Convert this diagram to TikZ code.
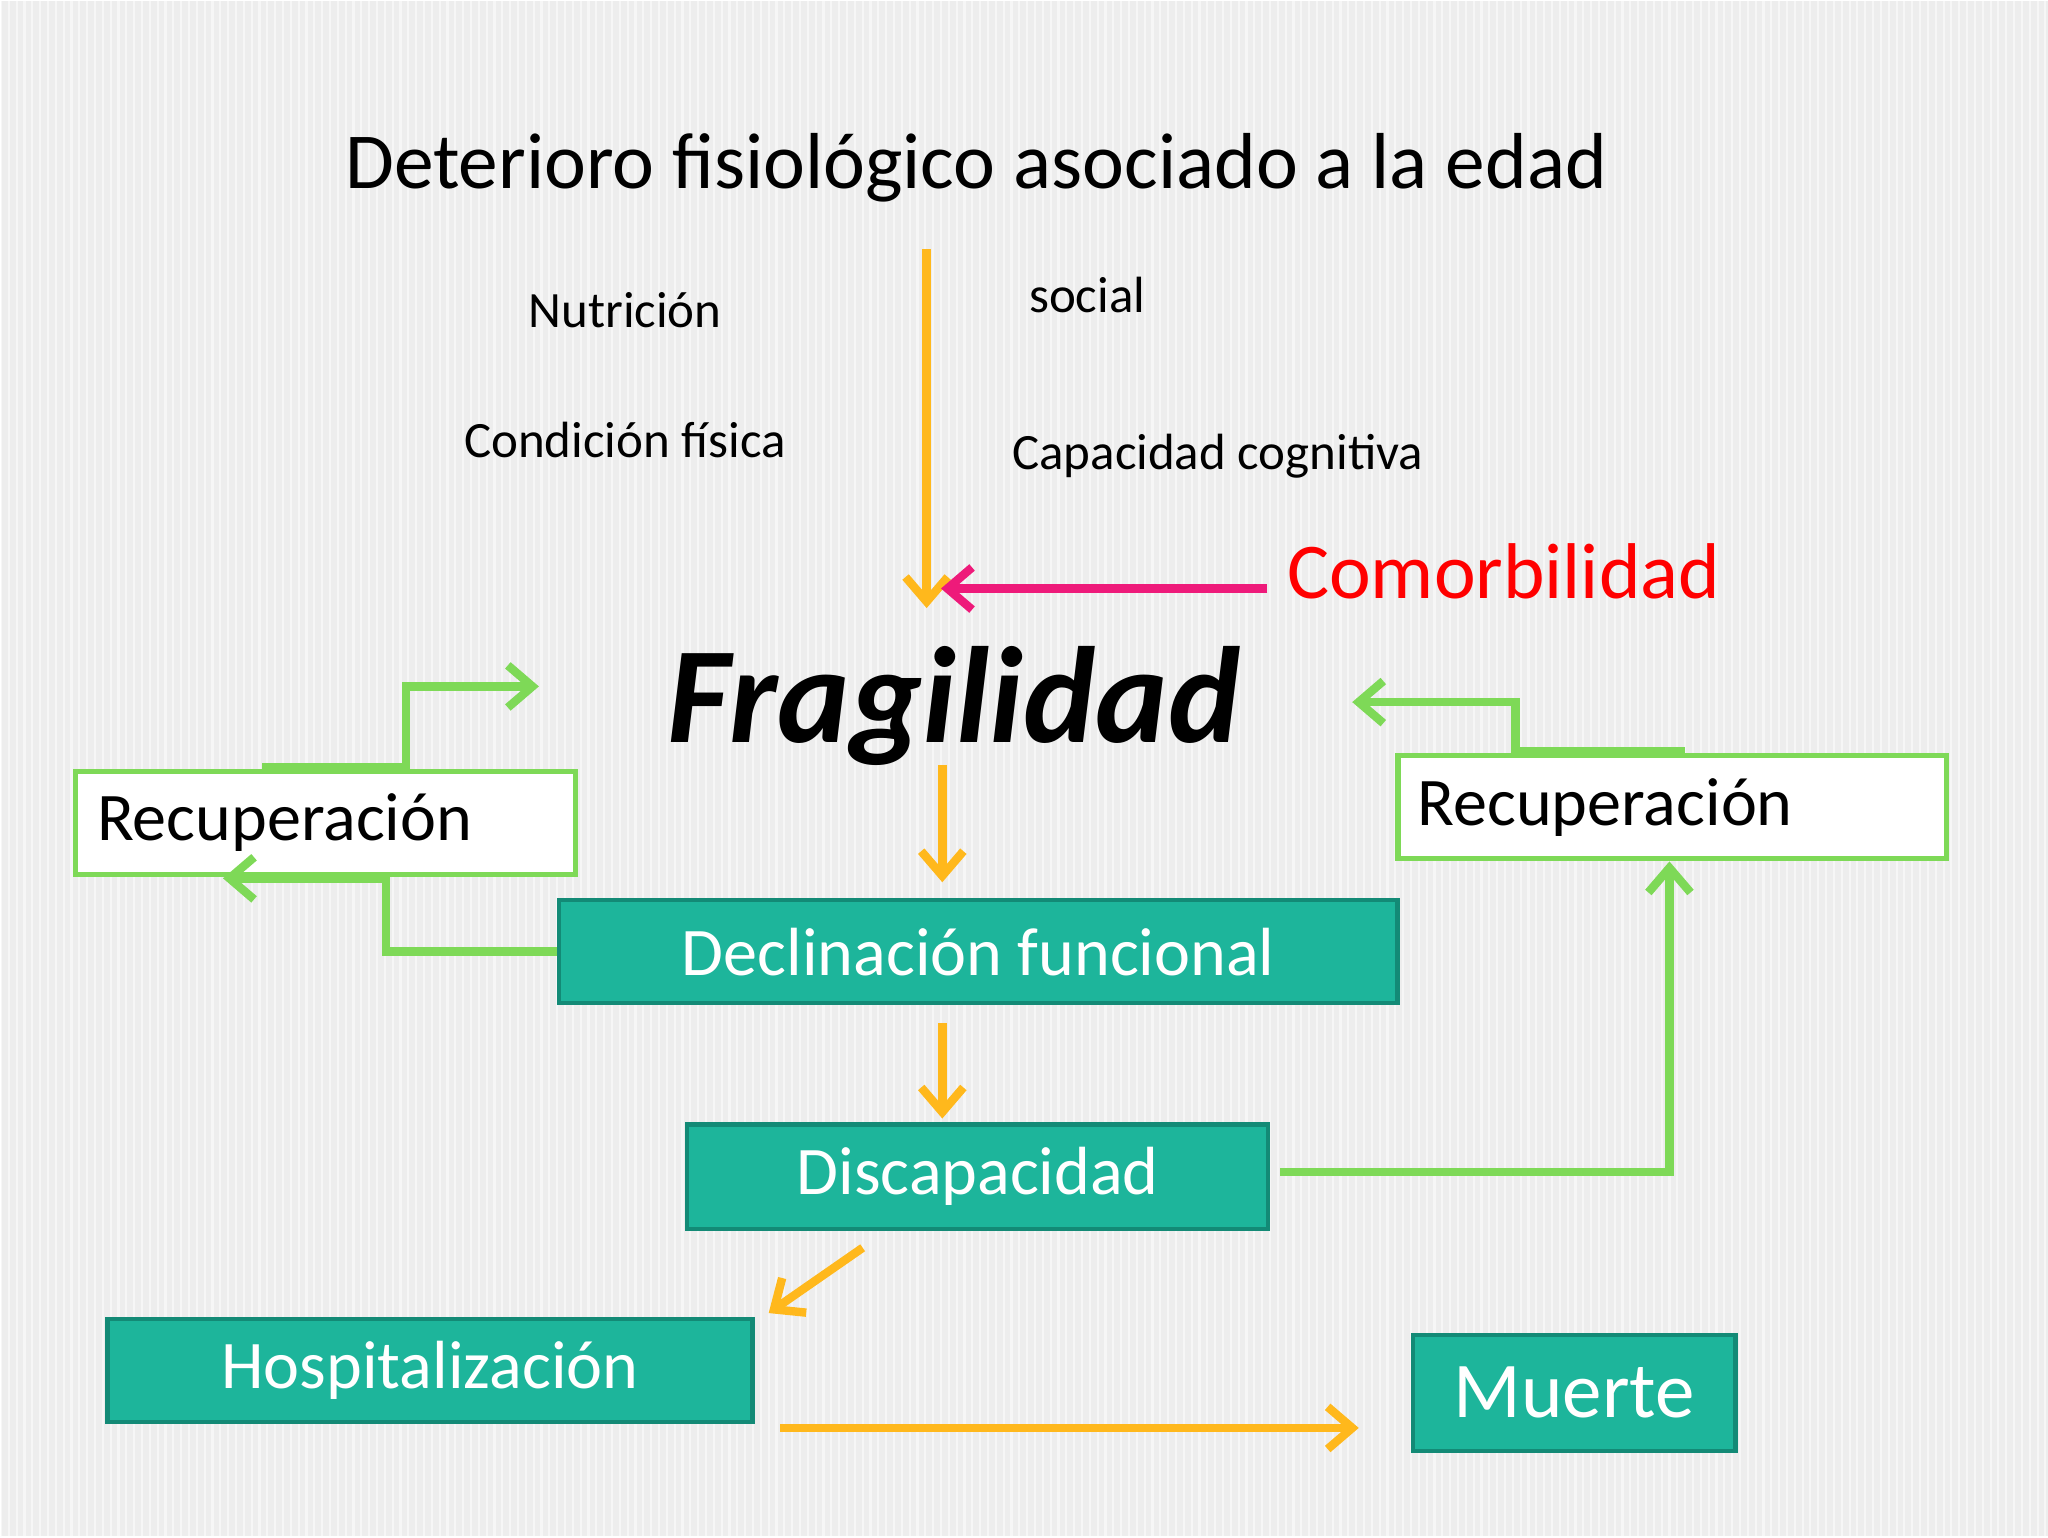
\documentclass[tikz,border=0pt]{standalone}
\usepackage{fontspec}
\setmainfont{Carlito}
\usetikzlibrary{arrows.meta}
\definecolor{bgc}{HTML}{EDEDED}
\definecolor{teal}{HTML}{1DB59B}
\definecolor{tealb}{HTML}{138A76}
\definecolor{org}{HTML}{FFB81C}
\definecolor{grn}{HTML}{7ED957}
\definecolor{mag}{HTML}{EE1A7A}
\tikzset{
 x=0.013061cm,y=-0.013061cm,
 tbox/.style={draw=tealb,line width=1.2pt,fill=teal,text=white,inner sep=0pt,anchor=north west},
 rbox/.style={draw=grn,line width=1.5pt,fill=white,inner sep=0pt,anchor=north west},
 oarr/.style={draw=org,line width=2.4pt,-{Straight Barb[length=7pt,width=12pt]}},
 garr/.style={draw=grn,line width=2.4pt,-{Straight Barb[length=7pt,width=12pt]}},
 lbl/.style={font=\fontsize{14.5}{16}\selectfont}
}
\begin{document}
\begin{tikzpicture}
\fill[bgc] (0,0) rectangle (1568,1176);
\foreach \i in {0,6,...,1566} \draw[white,line width=0.6pt,opacity=0.5] (\i,0)--(\i,1176);
\node (title) at (747,128) {\fontsize{22.6}{26}\selectfont Deterioro fisiológico asociado a la edad};
\node[lbl] (nut) at (478,237) {Nutrición};
\node[lbl] (soc) at (832,225) {social};
\node[lbl] (cond) at (478,336) {Condición física};
\node[lbl] (cap) at (932,349) {Capacidad cognitiva};
\node[text=red,font=\fontsize{22.5}{26}\selectfont] (com) at (1151,437) {Comorbilidad};
\node[font=\fontsize{39}{42}\selectfont\bfseries\itshape] (frag) at (730,540) {Fragilidad};
\node[tbox,minimum width=642*0.013061cm,minimum height=79*0.013061cm,font=\fontsize{19.4}{22}\selectfont] (dec) at (426,687) {Declinación funcional};
\node[tbox,minimum width=445*0.013061cm,minimum height=80*0.013061cm,font=\fontsize{19.4}{22}\selectfont] (dis) at (524,859) {Discapacidad};
\node[tbox,minimum width=494*0.013061cm,minimum height=79*0.013061cm,font=\fontsize{19.4}{22}\selectfont] (hos) at (80,1008) {Hospitalización};
\node[tbox,minimum width=247*0.013061cm,minimum height=89*0.013061cm,font=\fontsize{22.5}{26}\selectfont] (mue) at (1080,1020) {Muerte};
\node[rbox,minimum width=383*0.013061cm,minimum height=79*0.013061cm,font=\fontsize{19.4}{22}\selectfont,text width=350*0.013061cm,align=left] (rl) at (55,588) {Recuperación};
\node[rbox,minimum width=420*0.013061cm,minimum height=79*0.013061cm,font=\fontsize{19.4}{22}\selectfont,text width=390*0.013061cm,align=left] (rr) at (1068,576) {Recuperación};
\coordinate (a1) at (709,190); \coordinate (a2) at (709,465);
\coordinate (m1) at (970,450); \coordinate (m2) at (720,450);
\draw[oarr] (a1)--(a2);
\draw[draw=mag,line width=2.4pt,-{Straight Barb[length=7pt,width=12pt]}] (m1)--(m2);
\coordinate (f1) at (721,585); \coordinate (f2) at (721,675);
\draw[oarr] (f1)--(f2);
\coordinate (d1) at (721,783); \coordinate (d2) at (721,856);
\draw[oarr] (d1)--(d2);
\coordinate (h1) at (660,955); \coordinate (h2) at (588,1005);
\draw[oarr] (h1)--(h2);
\coordinate (k1) at (597,1093); \coordinate (k2) at (1040,1093);
\draw[oarr] (k1)--(k2);
\coordinate (g1) at (170,672);
\draw[garr] (dec.west) -- (dec.west -| 295,0) -- (295,672) -- (g1);
\coordinate (g2) at (200,587); \coordinate (g3) at (412,525);
\draw[garr] (g2) -- (310,587) -- (310,525) -- (g3);
\coordinate (g4) at (1290,575); \coordinate (g5) at (1035,537);
\draw[garr] (g4) -- (1160,575) -- (1160,537) -- (g5);
\coordinate (g6) at (980,897);
\draw[garr] (g6) -- (1278,897) -- (rr.south -| 1278,0);
\end{tikzpicture}
\end{document}
